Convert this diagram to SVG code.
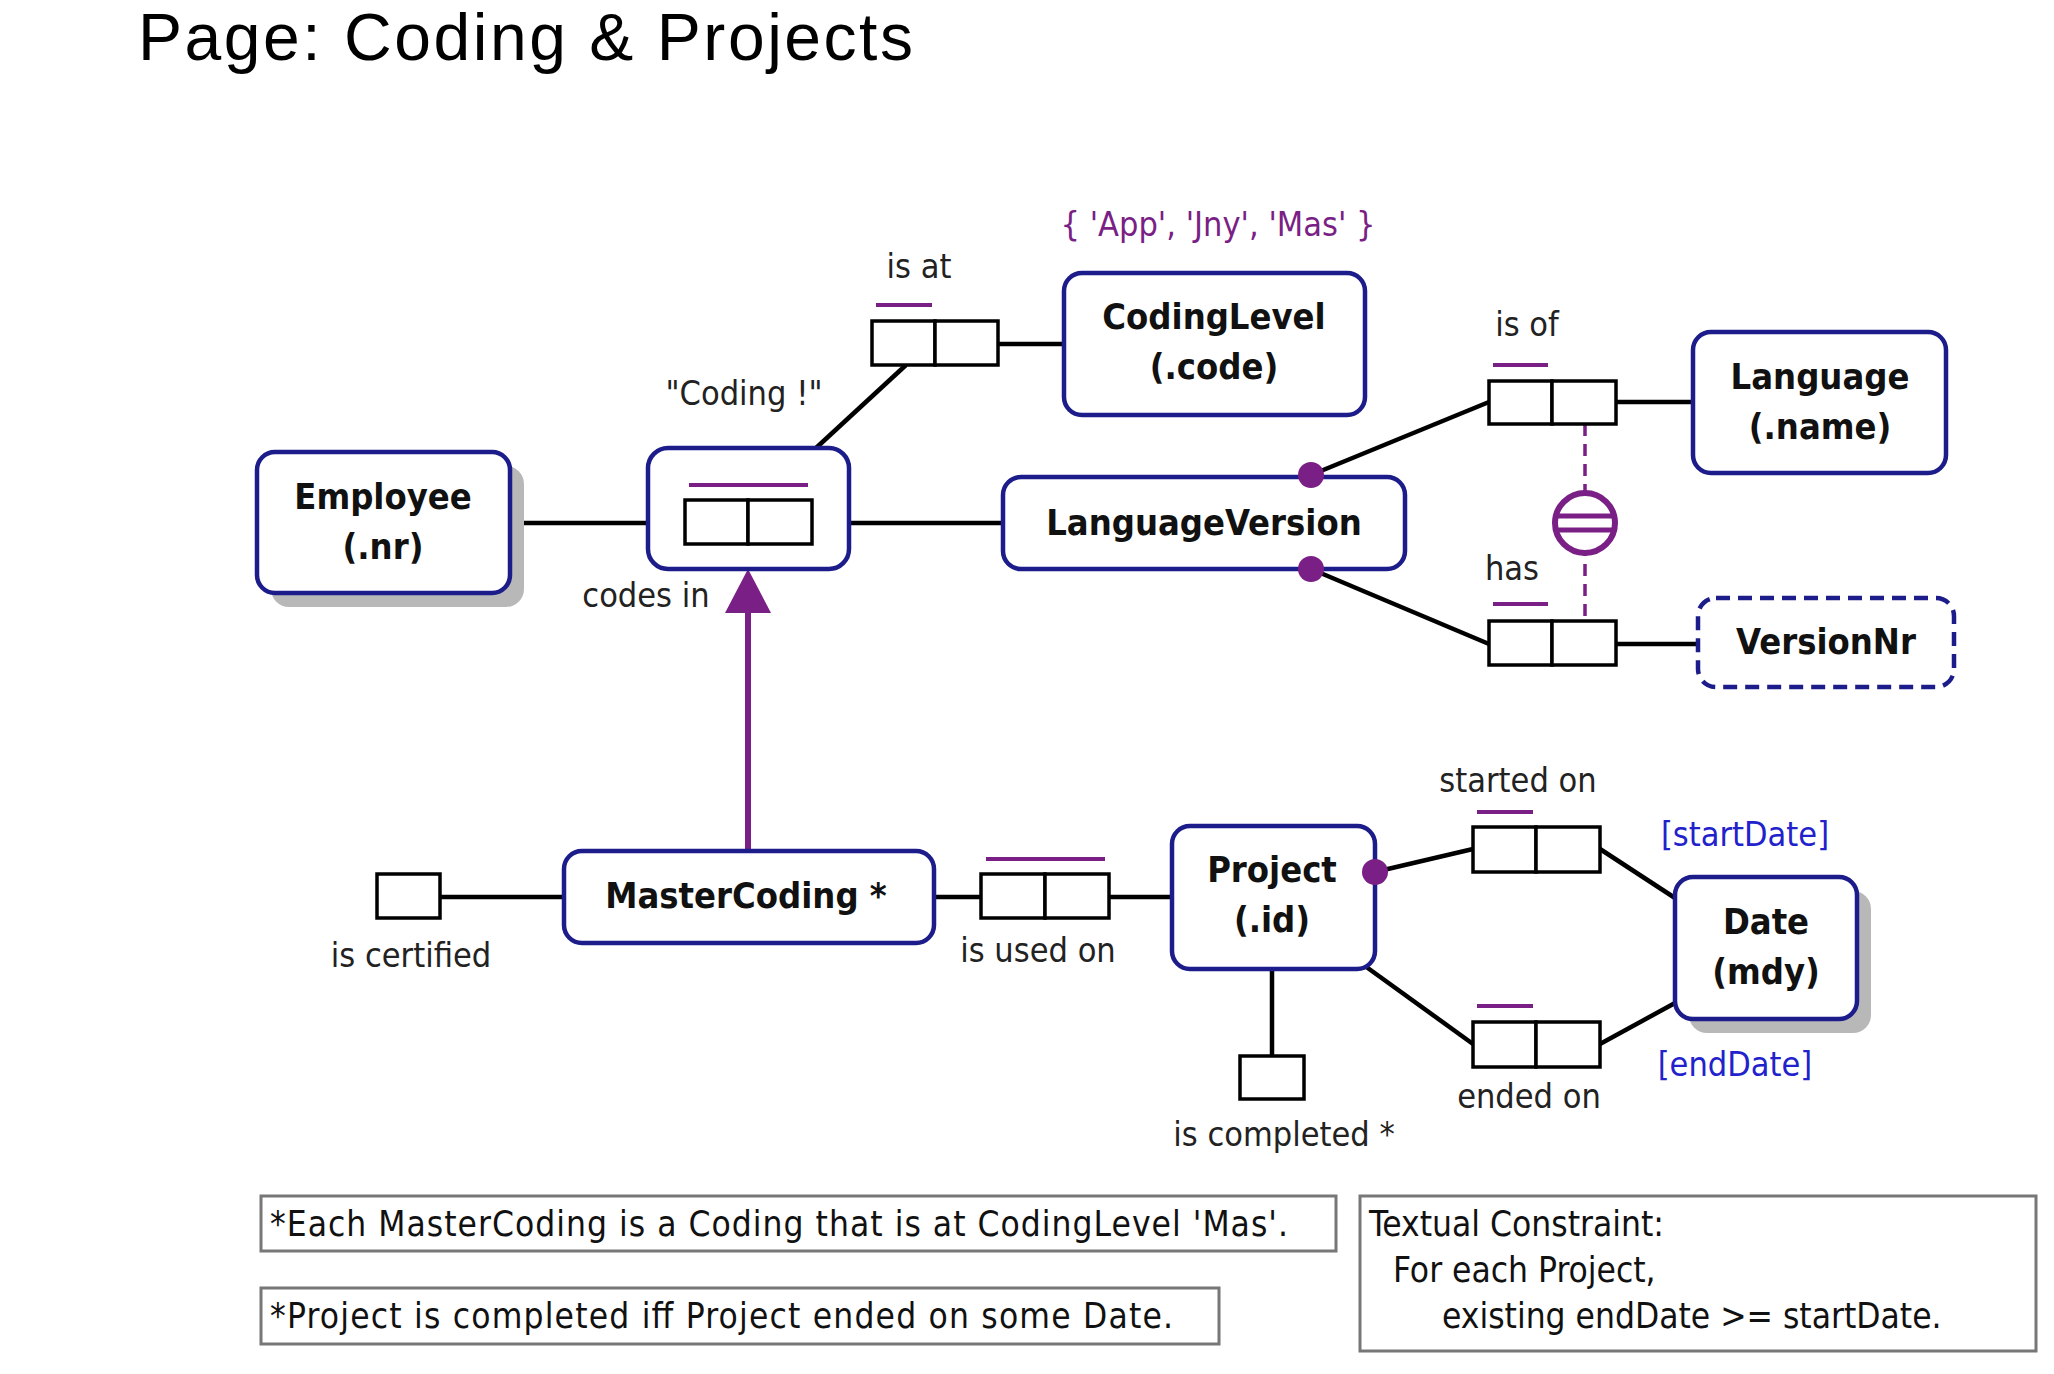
<svg xmlns="http://www.w3.org/2000/svg" width="2054" height="1374" viewBox="0 0 2054 1374">
<style>
.ent{fill:#fff;stroke:#1c1c8a;stroke-width:4.5}
.sh{fill:#b8b8b8}
.role{fill:#fff;stroke:#000;stroke-width:3.5}
.ln{stroke:#000;stroke-width:4.5;fill:none}
.uc{stroke:#7a1f85;stroke-width:4}
.nm{font-family:"DejaVu Sans Condensed","Liberation Sans",sans-serif;font-weight:bold;font-size:36px;text-anchor:middle;fill:#111}
.lb{font-family:"DejaVu Sans Condensed","Liberation Sans",sans-serif;font-size:34px;text-anchor:middle;fill:#222}
.bl{font-family:"DejaVu Sans Condensed","Liberation Sans",sans-serif;font-size:34px;text-anchor:middle;fill:#2222cc}
.nt{font-family:"DejaVu Sans Condensed","Liberation Sans",sans-serif;font-size:35px;fill:#111}
.box{fill:#fff;stroke:#777;stroke-width:3}
</style>
<text x="138" y="60" font-family="Liberation Sans,Arial,sans-serif" font-size="66" fill="#000" textLength="775">Page: Coding &amp; Projects</text>

<g id="connectors">
<line class="ln" x1="510" y1="523" x2="685" y2="523"/>
<line class="ln" x1="812" y1="523" x2="1003" y2="523"/>
<line class="ln" x1="816" y1="448" x2="906" y2="365"/>
<line class="ln" x1="998" y1="344" x2="1064" y2="344"/>
<line class="ln" x1="1311" y1="475" x2="1489" y2="402"/>
<line class="ln" x1="1616" y1="402" x2="1693" y2="402"/>
<line class="ln" x1="1311" y1="569" x2="1489" y2="644"/>
<line class="ln" x1="1616" y1="644" x2="1698" y2="644"/>
<line class="ln" x1="440" y1="897" x2="564" y2="897"/>
<line class="ln" x1="934" y1="897" x2="981" y2="897"/>
<line class="ln" x1="1109" y1="897" x2="1172" y2="897"/>
<line class="ln" x1="1375" y1="872" x2="1473" y2="849"/>
<line class="ln" x1="1600" y1="849" x2="1675" y2="898"/>
<line class="ln" x1="1365" y1="966" x2="1473" y2="1044"/>
<line class="ln" x1="1600" y1="1044" x2="1675" y2="1003"/>
<line class="ln" x1="1272" y1="969" x2="1272" y2="1056"/>
<line x1="748" y1="851" x2="748" y2="605" stroke="#7a1f85" stroke-width="6"/>
<polygon points="748,569 725,613 771,613" fill="#7a1f85"/>
<line x1="1585" y1="424" x2="1585" y2="621" stroke="#7a1f85" stroke-width="3.5" stroke-dasharray="12,8"/>
</g>

<g id="eq-constraint">
<circle cx="1585" cy="523" r="30" fill="#fff" stroke="#7a1f85" stroke-width="6"/>
<line x1="1556" y1="516" x2="1614" y2="516" stroke="#7a1f85" stroke-width="5"/>
<line x1="1556" y1="530" x2="1614" y2="530" stroke="#7a1f85" stroke-width="5"/>
</g>

<g id="Employee">
<rect class="sh" x="271" y="466" width="253" height="141" rx="18"/>
<rect class="ent" x="257" y="452" width="253" height="141" rx="18"/>
<text class="nm" x="383" y="509">Employee</text>
<text class="nm" x="383" y="559">(.nr)</text>
</g>

<g id="Coding">
<rect class="ent" x="648" y="448" width="201" height="121" rx="20"/>
<line class="uc" x1="689" y1="485" x2="808" y2="485"/>
<rect class="role" x="685" y="500" width="63" height="44"/>
<rect class="role" x="748" y="500" width="64" height="44"/>
<text class="lb" x="744" y="405">"Coding !"</text>
<text class="lb" x="646" y="607">codes in</text>
</g>

<g id="isAt">
<line class="uc" x1="876" y1="305" x2="932" y2="305"/>
<rect class="role" x="872" y="321" width="63" height="44"/>
<rect class="role" x="935" y="321" width="63" height="44"/>
<text class="lb" x="919" y="278">is at</text>
</g>

<g id="CodingLevel">
<rect class="ent" x="1064" y="273" width="301" height="142" rx="18"/>
<text class="nm" x="1214" y="329">CodingLevel</text>
<text class="nm" x="1214" y="379">(.code)</text>
<text x="1218" y="236" font-family="DejaVu Sans Condensed,Liberation Sans,sans-serif" font-size="34" text-anchor="middle" fill="#7a1f85">{ 'App', 'Jny', 'Mas' }</text>
</g>

<g id="LanguageVersion">
<rect class="ent" x="1003" y="477" width="402" height="92" rx="18"/>
<text class="nm" x="1204" y="535">LanguageVersion</text>
</g>

<g id="isOf">
<line class="uc" x1="1493" y1="365" x2="1548" y2="365"/>
<rect class="role" x="1489" y="381" width="63" height="43"/>
<rect class="role" x="1552" y="381" width="64" height="43"/>
<text class="lb" x="1527" y="336">is of</text>
</g>

<g id="Language">
<rect class="ent" x="1693" y="332" width="253" height="141" rx="18"/>
<text class="nm" x="1820" y="389">Language</text>
<text class="nm" x="1820" y="439">(.name)</text>
</g>

<g id="has">
<line class="uc" x1="1493" y1="604" x2="1548" y2="604"/>
<rect class="role" x="1489" y="621" width="63" height="44"/>
<rect class="role" x="1552" y="621" width="64" height="44"/>
<text class="lb" x="1512" y="580">has</text>
</g>

<g id="VersionNr">
<rect x="1698" y="598" width="256" height="89" rx="18" fill="#fff" stroke="#1c1c8a" stroke-width="4.5" stroke-dasharray="14,8"/>
<text class="nm" x="1826" y="654">VersionNr</text>
</g>

<g id="isCertified">
<rect class="role" x="377" y="874" width="63" height="44"/>
<text class="lb" x="411" y="967">is certified</text>
</g>

<g id="MasterCoding">
<rect class="ent" x="564" y="851" width="370" height="92" rx="18"/>
<text class="nm" x="746" y="908">MasterCoding *</text>
</g>

<g id="isUsedOn">
<line class="uc" x1="986" y1="859" x2="1105" y2="859"/>
<rect class="role" x="981" y="874" width="64" height="44"/>
<rect class="role" x="1045" y="874" width="64" height="44"/>
<text class="lb" x="1038" y="962">is used on</text>
</g>

<g id="Project">
<rect class="ent" x="1172" y="826" width="203" height="143" rx="18"/>
<text class="nm" x="1272" y="882">Project</text>
<text class="nm" x="1272" y="932">(.id)</text>
</g>

<g id="startedOn">
<line class="uc" x1="1477" y1="812" x2="1533" y2="812"/>
<rect class="role" x="1473" y="827" width="63" height="45"/>
<rect class="role" x="1536" y="827" width="64" height="45"/>
<text class="lb" x="1518" y="792">started on</text>
<text class="bl" x="1745" y="846">[startDate]</text>
</g>

<g id="endedOn">
<line class="uc" x1="1477" y1="1006" x2="1533" y2="1006"/>
<rect class="role" x="1473" y="1022" width="63" height="45"/>
<rect class="role" x="1536" y="1022" width="64" height="45"/>
<text class="lb" x="1529" y="1108">ended on</text>
<text class="bl" x="1735" y="1076">[endDate]</text>
</g>

<g id="Date">
<rect class="sh" x="1689" y="891" width="182" height="142" rx="18"/>
<rect class="ent" x="1675" y="877" width="182" height="142" rx="18"/>
<text class="nm" x="1766" y="934">Date</text>
<text class="nm" x="1766" y="984">(mdy)</text>
</g>

<g id="isCompleted">
<rect class="role" x="1240" y="1056" width="64" height="43"/>
<text class="lb" x="1284" y="1146">is completed *</text>
</g>

<g id="mandatory-dots">
<circle cx="1311" cy="475" r="13" fill="#7a1f85"/>
<circle cx="1311" cy="569" r="13" fill="#7a1f85"/>
<circle cx="1375" cy="872" r="13" fill="#7a1f85"/>
</g>

<g id="notes">
<rect class="box" x="261" y="1196" width="1075" height="55"/>
<text class="nt" x="270" y="1236" textLength="1018">*Each MasterCoding is a Coding that is at CodingLevel 'Mas'.</text>
<rect class="box" x="261" y="1288" width="958" height="56"/>
<text class="nt" x="270" y="1328" textLength="903">*Project is completed iff Project ended on some Date.</text>
<rect class="box" x="1360" y="1196" width="676" height="155"/>
<text class="nt" x="1369" y="1236">Textual Constraint:</text>
<text class="nt" x="1393" y="1282">For each Project,</text>
<text class="nt" x="1442" y="1328">existing endDate &gt;= startDate.</text>
</g>
</svg>
